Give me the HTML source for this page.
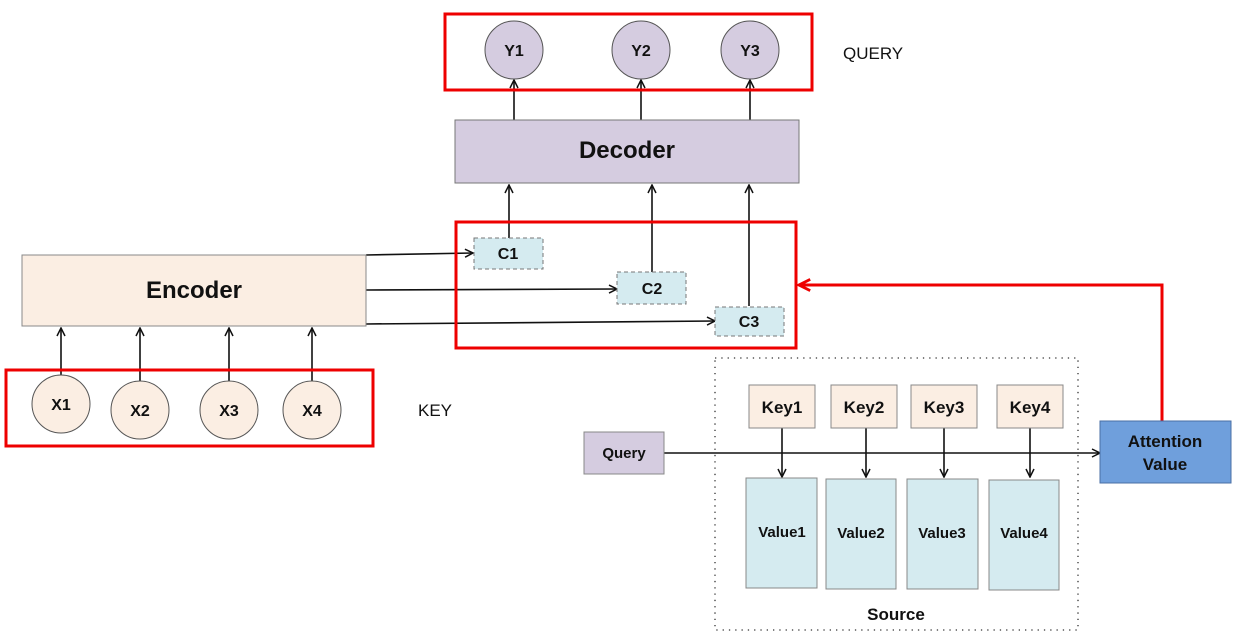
<!DOCTYPE html>
<html><head><meta charset="utf-8"><style>
html,body{margin:0;padding:0;background:#fff;}
svg{display:block;}
text{font-family:"Liberation Sans",sans-serif;}
</style></head><body>
<svg width="1250" height="638" viewBox="0 0 1250 638" xmlns="http://www.w3.org/2000/svg">
<defs>
<marker id="a" viewBox="0 0 10 10" refX="9" refY="5" markerWidth="10" markerHeight="10" markerUnits="userSpaceOnUse" orient="auto"><path d="M1,1 L9,5 L1,9" fill="none" stroke="#111" stroke-width="1.5"/></marker>
<marker id="r" viewBox="0 0 10 10" refX="9" refY="5" markerWidth="14" markerHeight="14" markerUnits="userSpaceOnUse" orient="auto"><path d="M1,1 L9,5 L1,9" fill="none" stroke="#e00" stroke-width="2"/></marker>
</defs>
<g stroke="#111" stroke-width="1.6" fill="none" marker-end="url(#a)">
<line x1="514" y1="120" x2="514" y2="80"/>
<line x1="641" y1="120" x2="641" y2="80"/>
<line x1="750" y1="120" x2="750" y2="80"/>
<line x1="509" y1="238" x2="509" y2="185"/>
<line x1="652" y1="272" x2="652" y2="185"/>
<line x1="749" y1="306" x2="749" y2="185"/>
<line x1="366" y1="255" x2="473" y2="253"/>
<line x1="366" y1="290" x2="617" y2="289"/>
<line x1="366" y1="324" x2="715" y2="321"/>
<line x1="61" y1="375" x2="61" y2="328"/>
<line x1="140" y1="381" x2="140" y2="328"/>
<line x1="229" y1="381" x2="229" y2="328"/>
<line x1="312" y1="381" x2="312" y2="328"/>
<line x1="664" y1="453" x2="1100" y2="453"/>
<line x1="782" y1="428" x2="782" y2="477"/>
<line x1="866" y1="428" x2="866" y2="477"/>
<line x1="944" y1="428" x2="944" y2="477"/>
<line x1="1030" y1="428" x2="1030" y2="477"/>
</g>
<!-- Y circles -->
<g fill="#d5cce0" stroke="#555" stroke-width="1">
<circle cx="514" cy="50" r="29"/><circle cx="641" cy="50" r="29"/><circle cx="750" cy="50" r="29"/>
</g>
<g font-weight="bold" font-size="16" text-anchor="middle" fill="#111">
<text x="514" y="56">Y1</text><text x="641" y="56">Y2</text><text x="750" y="56">Y3</text>
</g>
<rect x="455" y="120" width="344" height="63" fill="#d5cce0" stroke="#777" stroke-width="1"/>
<text x="627" y="158" font-size="24" font-weight="bold" text-anchor="middle" fill="#111">Decoder</text>
<rect x="22" y="255" width="344" height="71" fill="#fbeee3" stroke="#888" stroke-width="1"/>
<text x="194" y="298" font-size="24" font-weight="bold" text-anchor="middle" fill="#111">Encoder</text>
<!-- C boxes -->
<g fill="#d5ebf0" stroke="#777" stroke-width="1" stroke-dasharray="4,3">
<rect x="474" y="238" width="69" height="31"/><rect x="617" y="272" width="69" height="32"/><rect x="715" y="307" width="69" height="29"/>
</g>
<g font-weight="bold" font-size="16" text-anchor="middle" fill="#111">
<text x="508" y="259">C1</text><text x="652" y="294">C2</text><text x="749" y="327">C3</text>
</g>
<!-- X circles -->
<g fill="#fbeee3" stroke="#555" stroke-width="1">
<circle cx="61" cy="404" r="29"/><circle cx="140" cy="410" r="29"/><circle cx="229" cy="410" r="29"/><circle cx="312" cy="410" r="29"/>
</g>
<g font-weight="bold" font-size="16" text-anchor="middle" fill="#111">
<text x="61" y="410">X1</text><text x="140" y="416">X2</text><text x="229" y="416">X3</text><text x="312" y="416">X4</text>
</g>
<!-- red boxes -->
<g fill="none" stroke="#e00" stroke-width="3">
<rect x="445" y="14" width="367" height="76"/>
<rect x="456" y="222" width="340" height="126"/>
<rect x="6" y="370" width="367" height="76"/>
</g>
<polyline points="1162,421 1162,285 799,285" fill="none" stroke="#e00" stroke-width="3" marker-end="url(#r)"/>
<text x="843" y="59" font-size="17" fill="#111">QUERY</text>
<text x="418" y="416" font-size="17" fill="#111">KEY</text>
<!-- source -->
<rect x="715" y="358" width="363" height="272" fill="none" stroke="#333" stroke-width="1.3" stroke-dasharray="1.3,5"/>
<g fill="#fbeee3" stroke="#888" stroke-width="1">
<rect x="749" y="385" width="66" height="43"/><rect x="831" y="385" width="66" height="43"/><rect x="911" y="385" width="66" height="43"/><rect x="997" y="385" width="66" height="43"/>
</g>
<g font-weight="bold" font-size="17" text-anchor="middle" fill="#111">
<text x="782" y="413">Key1</text><text x="864" y="413">Key2</text><text x="944" y="413">Key3</text><text x="1030" y="413">Key4</text>
</g>
<g fill="#d5ebf0" stroke="#888" stroke-width="1">
<rect x="746" y="478" width="71" height="110"/><rect x="826" y="479" width="70" height="110"/><rect x="907" y="479" width="71" height="110"/><rect x="989" y="480" width="70" height="110"/>
</g>
<g font-weight="bold" font-size="15" text-anchor="middle" fill="#111">
<text x="782" y="537">Value1</text><text x="861" y="538">Value2</text><text x="942" y="538">Value3</text><text x="1024" y="538">Value4</text>
</g>
<text x="896" y="620" font-size="17" font-weight="bold" text-anchor="middle" fill="#111">Source</text>
<rect x="584" y="432" width="80" height="42" fill="#d5cce0" stroke="#888" stroke-width="1"/>
<text x="624" y="458" font-size="15" font-weight="bold" text-anchor="middle" fill="#111">Query</text>
<rect x="1100" y="421" width="131" height="62" fill="#6f9fdc" stroke="#4a6fa5" stroke-width="1"/>
<text x="1165" y="447" font-size="17" font-weight="bold" text-anchor="middle" fill="#111">Attention</text>
<text x="1165" y="470" font-size="17" font-weight="bold" text-anchor="middle" fill="#111">Value</text>
</svg>
</body></html>
